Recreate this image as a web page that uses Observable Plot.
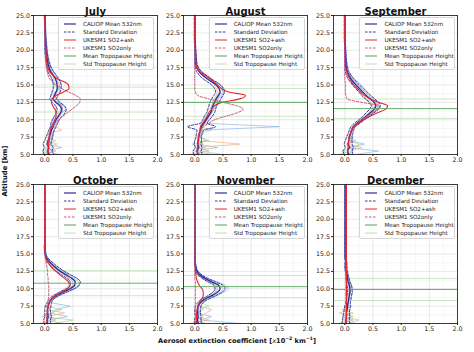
<!DOCTYPE html>
<html>
<head>
<meta charset="utf-8">
<script src="https://cdn.jsdelivr.net/npm/d3@7"></script>
<script src="https://cdn.jsdelivr.net/npm/@observablehq/plot@0.6"></script>
<style>
  body { margin: 0; background: #fff; font-family: "DejaVu Sans", sans-serif; }
  #wrap { position: relative; width: 474px; height: 352px; overflow: hidden; }
  #wrap > svg { position: absolute; left: 0; top: 0; }
  .leg { position: absolute; box-sizing: border-box; width: 96px; height: 53px;
         background: rgba(255,255,255,0.8); border: 0.7px solid #d6d6d6; border-radius: 2px; }
  .leg .row { position: absolute; left: 0; height: 8px; display: flex; align-items: center;
              font-size: 5.6px; color: #222; white-space: nowrap; }
  .leg .row svg { display: block; margin-left: 5px; margin-right: 7px; flex: none; }
  .ylab { position: absolute; left: -21px; top: 167px; width: 52px; text-align: center;
          font-size: 6.8px; font-weight: bold; transform: rotate(-90deg); color: #111; white-space: nowrap; }
  .xlab { position: absolute; left: 0; width: 474px; top: 336px; text-align: center;
          font-size: 6.6px; font-weight: bold; color: #111; white-space: nowrap; }
  .xlab sup { font-size: 4.6px; vertical-align: 3px; }
</style>
</head>
<body>
<div id="wrap"></div>
<script>
// ---------- data ----------
const months = ["July", "August", "September", "October", "November", "December"];
const alt = [5,5.5,6,6.5,7,7.5,8,8.5,9,9.5,10,10.5,11,11.5,12,12.5,13,13.5,14,14.5,15,16,17,18,20,22,25];

const julMean = [0.08,0.05,0.07,0.04,0.06,0.08,0.1,0.12,0.15,0.17,0.2,0.24,0.28,0.3,0.27,0.2,0.15,0.17,0.2,0.22,0.22,0.18,0.1,0.06,0.02,0.01,0];
const julSd   = [0.09,0.08,0.08,0.07,0.06,0.06,0.05,0.05,0.05,0.06,0.06,0.07,0.08,0.08,0.08,0.07,0.06,0.06,0.07,0.07,0.07,0.06,0.05,0.03,0.02,0.01,0.01];
const julAsh  = [0.06,0.06,0.07,0.07,0.08,0.08,0.09,0.1,0.12,0.15,0.18,0.2,0.2,0.18,0.14,0.12,0.13,0.2,0.33,0.43,0.42,0.2,0.08,0.04,0.02,0.01,0];
const julSo2  = [0.05,0.05,0.06,0.06,0.07,0.07,0.08,0.1,0.13,0.18,0.25,0.32,0.4,0.48,0.56,0.62,0.63,0.55,0.42,0.3,0.2,0.08,0.04,0.02,0.01,0,0];
const julP1   = [0.25,0.02,0.3,0.05,0.15,0.1,0.12,0.1,0.12,0.14,0.15,0.2,0.3,0.38,0.33,0.22,0.12,0.1,0.18,0.28,0.3,0.22,0.15,0.08,0.04,0.02,0];
const julP2   = [-0.1,0.2,0,0.22,0.02,0.14,0.05,0.3,0.2,0.22,0.25,0.3,0.22,0.2,0.2,0.18,0.2,0.25,0.28,0.24,0.2,0.12,0.06,0.1,0.03,0.01,0];
const julP3   = [0.12,-0.05,0.15,0.1,0.2,0.02,0.1,0.08,0.1,0.11,0.12,0.16,0.24,0.28,0.3,0.28,0.22,0.15,0.12,0.16,0.18,0.15,0.12,0.05,0.05,0.02,0.01];
const julP4   = [0.02,0.15,0.05,0.1,0.08,0.12,0.14,0.16,0.18,0.2,0.22,0.26,0.3,0.32,0.3,0.25,0.2,0.18,0.22,0.25,0.26,0.2,0.12,0.07,0.03,0.01,0];

const augMean = [0.06,0.04,0.07,0.05,0.06,0.07,0.08,0.1,0.12,0.16,0.2,0.24,0.28,0.3,0.32,0.35,0.38,0.42,0.45,0.43,0.38,0.2,0.07,0.02,0.01,0,0];
const augSd   = [0.08,0.07,0.06,0.06,0.06,0.05,0.05,0.06,0.25,0.06,0.06,0.07,0.07,0.07,0.07,0.08,0.08,0.08,0.08,0.08,0.08,0.07,0.04,0.02,0.01,0.01,0.01];
const augAsh  = [0.05,0.05,0.05,0.06,0.06,0.07,0.08,0.09,0.1,0.14,0.18,0.22,0.25,0.3,0.35,0.48,0.8,0.9,0.6,0.47,0.4,0.25,0.08,0.02,0.01,0,0];
const augSo2  = [0.04,0.04,0.05,0.05,0.06,0.06,0.07,0.1,0.15,0.25,0.35,0.55,0.75,0.86,0.75,0.5,0.25,0.05,0.01,0,0,0,0,0,0,0,0];
const augP1   = [0.3,0,0.4,0.05,0.2,0.1,0.15,0.12,1.5,0.18,0.2,0.25,0.3,0.33,0.35,0.37,0.4,0.45,0.5,0.48,0.42,0.25,0.1,0.03,0.01,0,0];
const augP2   = [-0.12,0.25,0.05,0.8,0.1,0.02,0.12,0.14,0.15,0.18,0.22,0.26,0.3,0.28,0.3,0.32,0.35,0.38,0.4,0.38,0.35,0.3,0.12,0.04,0.02,0.01,0];
const augP3   = [0.5,0.1,0.2,-0.05,0.25,0.08,0.06,0.3,0.1,0.12,0.16,0.2,0.22,0.26,0.3,0.33,0.36,0.4,0.44,0.5,0.45,0.25,0.06,0.02,0,0,0];
const augP4   = [0.1,0.05,0.02,0.15,0.08,0.1,0.1,0.12,0.14,0.18,0.22,0.26,0.3,0.34,0.38,0.4,0.42,0.48,0.52,0.5,0.45,0.26,0.1,0.03,0.01,0,0];

const sepMean = [0.07,0.05,0.08,0.06,0.07,0.08,0.1,0.12,0.15,0.22,0.3,0.38,0.45,0.52,0.55,0.52,0.45,0.38,0.32,0.26,0.2,0.1,0.04,0.02,0.01,0,0];
const sepSd   = [0.08,0.08,0.07,0.07,0.06,0.05,0.04,0.04,0.04,0.05,0.05,0.06,0.07,0.08,0.08,0.08,0.08,0.08,0.07,0.07,0.06,0.05,0.03,0.02,0.01,0.01,0.01];
const sepAsh  = [0.05,0.05,0.06,0.06,0.07,0.08,0.1,0.13,0.17,0.25,0.33,0.45,0.58,0.72,0.76,0.6,0.45,0.35,0.28,0.22,0.16,0.08,0.03,0.01,0.01,0,0];
const sepSo2  = [0.05,0.05,0.06,0.06,0.07,0.08,0.1,0.12,0.16,0.23,0.3,0.4,0.48,0.58,0.62,0.3,0.04,0.02,0.01,0.01,0.01,0,0,0,0,0,0];
const sepP1   = [0.2,0.6,0.05,0.35,0.1,0.15,0.12,0.14,0.16,0.24,0.32,0.4,0.5,0.58,0.6,0.58,0.5,0.45,0.4,0.35,0.3,0.15,0.05,0.02,0.01,0,0];
const sepP2   = [-0.1,0.1,0.3,0.02,0.2,0.05,0.09,0.11,0.14,0.2,0.27,0.34,0.42,0.48,0.5,0.47,0.4,0.33,0.27,0.22,0.16,0.08,0.03,0.01,0,0,0];
const sepP3   = [0.15,-0.05,0.2,0.25,0.05,0.12,0.1,0.12,0.15,0.22,0.3,0.4,0.5,0.56,0.5,0.42,0.36,0.3,0.28,0.24,0.2,0.12,0.05,0.02,0.01,0,0];
const sepP4   = [0.05,0.15,0.1,0.08,0.12,0.1,0.11,0.13,0.17,0.25,0.34,0.42,0.5,0.56,0.58,0.55,0.48,0.42,0.36,0.3,0.24,0.12,0.05,0.02,0.01,0,0];

const octMean = [0.05,0.04,0.06,0.05,0.05,0.06,0.08,0.12,0.2,0.32,0.45,0.53,0.54,0.48,0.38,0.28,0.2,0.13,0.07,0.03,0.01,0,0,0,0,0,0];
const octSd   = [0.06,0.06,0.06,0.05,0.05,0.05,0.04,0.04,0.05,0.06,0.07,0.08,0.09,0.09,0.08,0.07,0.06,0.05,0.04,0.02,0.01,0.01,0,0,0,0,0];
const octAsh  = [0.04,0.04,0.05,0.05,0.05,0.06,0.08,0.12,0.2,0.3,0.4,0.45,0.42,0.35,0.27,0.2,0.13,0.08,0.04,0.02,0.01,0,0,0,0,0,0];
const octSo2  = [0.03,0.03,0.03,0.03,0.04,0.04,0.05,0.06,0.07,0.07,0.07,0.07,0.06,0.06,0.05,0.05,0.04,0.03,0.02,0.01,0.01,0,0,0,0,0,0];
const octP1   = [0.3,0.05,0.4,0.1,0.2,0.45,0.1,0.15,0.25,0.4,0.55,0.62,0.6,0.52,0.42,0.32,0.22,0.15,0.08,0.03,0.01,0,0,0,0,0,0];
const octP2   = [-0.1,0.2,0.02,0.35,0.05,0.1,0.07,0.1,0.16,0.26,0.36,0.42,0.45,0.42,0.34,0.25,0.17,0.1,0.05,0.02,0.01,0,0,0,0,0,0];
const octP3   = [0.15,0.5,-0.05,0.1,0.3,0.02,0.09,0.14,0.22,0.36,0.5,0.6,0.64,0.58,0.45,0.34,0.24,0.16,0.09,0.04,0.02,0.01,0,0,0,0,0];
const octP4   = [0.08,0.02,0.12,0.05,0.1,0.06,0.08,0.12,0.18,0.3,0.42,0.5,0.5,0.44,0.36,0.26,0.18,0.12,0.06,0.03,0.01,0,0,0,0,0,0];

const novMean = [0.06,0.05,0.06,0.05,0.05,0.06,0.1,0.18,0.3,0.4,0.45,0.42,0.3,0.18,0.09,0.04,0.02,0.01,0,0,0,0,0,0,0,0,0];
const novSd   = [0.06,0.06,0.05,0.05,0.05,0.05,0.05,0.06,0.07,0.08,0.09,0.08,0.07,0.05,0.04,0.02,0.01,0.01,0,0,0,0,0,0,0,0,0];
const novAsh  = [0.03,0.03,0.03,0.03,0.04,0.05,0.08,0.12,0.15,0.15,0.13,0.08,0.05,0.03,0.02,0.01,0.01,0.01,0.01,0.01,0.01,0.01,0.01,0.01,0.01,0.01,0.01];
const novSo2  = [0.01,0.01,0.01,0.01,0.01,0.01,0.01,0.01,0.01,0.01,0.01,0.01,0.01,0,0,0,0,0,0,0,0,0,0,0,0,0,0];
const novP1   = [0.8,0.1,0.3,0.05,0.15,0.1,0.14,0.24,0.4,0.52,0.6,0.55,0.4,0.22,0.1,0.05,0.02,0.01,0,0,0,0,0,0,0,0,0];
const novP2   = [-0.1,0.25,0.05,0.2,0.3,0.08,0.08,0.14,0.24,0.32,0.36,0.34,0.25,0.14,0.07,0.03,0.01,0,0,0,0,0,0,0,0,0,0];
const novP3   = [0.2,0,0.15,0.1,0.05,0.25,0.12,0.2,0.34,0.46,0.5,0.46,0.33,0.2,0.1,0.05,0.02,0.01,0,0,0,0,0,0,0,0,0];
const novP4   = [0.05,0.12,0.02,0.1,0.06,0.08,0.09,0.16,0.27,0.36,0.4,0.38,0.28,0.16,0.08,0.04,0.02,0.01,0,0,0,0,0,0,0,0,0];

const decMean = [0.02,0.02,0.03,0.03,0.04,0.05,0.06,0.07,0.08,0.09,0.09,0.08,0.06,0.05,0.04,0.03,0.02,0.02,0.02,0.01,0.01,0.01,0.01,0.01,0.01,0.01,0.01];
const decSd   = [0.07,0.06,0.06,0.05,0.05,0.05,0.04,0.04,0.04,0.04,0.04,0.04,0.03,0.03,0.02,0.02,0.02,0.02,0.01,0.01,0.01,0.01,0.01,0.01,0.01,0.01,0.01];
const decAsh  = [0.03,0.03,0.03,0.03,0.03,0.03,0.03,0.03,0.03,0.03,0.03,0.03,0.03,0.03,0.03,0.03,0.03,0.03,0.03,0.03,0.03,0.03,0.03,0.03,0.03,0.03,0.03];
const decSo2  = [0.02,0.02,0.02,0.02,0.02,0.02,0.02,0.02,0.02,0.02,0.02,0.02,0.02,0.02,0.02,0.02,0.02,0.02,0.02,0.02,0.02,0.02,0.02,0.02,0.02,0.02,0.02];
const decP1   = [-0.1,0.15,-0.05,0.1,0,0.12,0.05,0.1,0.12,0.14,0.13,0.1,0.08,0.06,0.04,0.03,0.03,0.02,0.02,0.02,0.03,0.01,0.01,0.01,0.01,0.02,0.01];
const decP2   = [0.2,-0.05,0.15,-0.1,0.1,0.02,0.08,0.04,0.06,0.08,0.1,0.12,0.1,0.07,0.05,0.04,0.03,0.02,0.01,0.01,0.01,0.01,0.01,0.02,0.01,0.01,0.01];
const decP3   = [0.05,0.25,0,0.15,-0.05,0.08,0.02,0.06,0.05,0.07,0.08,0.06,0.05,0.04,0.03,0.02,0.02,0.01,0.01,0.01,0.01,0.01,0.01,0.01,0.01,0.01,0.01];
const decP4   = [0,0.05,0.1,0.02,0.06,0.04,0.05,0.07,0.09,0.1,0.1,0.09,0.07,0.05,0.04,0.03,0.02,0.02,0.01,0.01,0.01,0.01,0.01,0.01,0.01,0.01,0.01];

const tropoMean = [12.9, 12.5, 11.6, 10.8, 10.3, 9.9];
const tropoSd   = [1.8, 2.0, 1.4, 1.8, 1.6, 1.6];

const xTicks = [0, 0.5, 1, 1.5, 2];
const yTicks = [5, 7.5, 10, 12.5, 15, 17.5, 20, 22.5, 25];
const xMinor = [0.25, 0.75, 1.25, 1.75];
const yMinor = [6.25, 8.75, 11.25, 13.75, 16.25, 18.75, 21.25, 23.75];

const legendLabels = ["CALIOP Mean 532nm", "Standard Deviation", "UKESM1 SO2+ash", "UKESM1 SO2only", "Mean Tropopause Height", "Std Tropopause Height"];

// ---------- build tables ----------
const monthSeries = [
  [julMean, julSd, julAsh, julSo2, julP1, julP2, julP3, julP4],
  [augMean, augSd, augAsh, augSo2, augP1, augP2, augP3, augP4],
  [sepMean, sepSd, sepAsh, sepSo2, sepP1, sepP2, sepP3, sepP4],
  [octMean, octSd, octAsh, octSo2, octP1, octP2, octP3, octP4],
  [novMean, novSd, novAsh, novSo2, novP1, novP2, novP3, novP4],
  [decMean, decSd, decAsh, decSo2, decP1, decP2, decP3, decP4]
];
const rows = [];
monthSeries.forEach((s, m) => {
  alt.forEach((a, k) => {
    rows.push({m, alt: a, mean: s[0][k], sd: s[1][k], ash: s[2][k], so2: s[3][k],
               p1: s[4][k], p2: s[5][k], p3: s[6][k], p4: s[7][k]});
  });
});
const tropo = tropoMean.map((h, m) => ({m, h, sd: tropoSd[m]}));
const titles = months.map((name, m) => ({m, name}));
const FX = d => d.m % 3;
const FY = d => Math.floor(d.m / 3);

const C = {
  mean: "#30309a", sd: "#3636a8", ash: "#e3262f", so2: "#d4557a",
  tMean: "#55a255", tSd: "#bfe0b6", p1: "#80b0e4", p2: "#f0a870", p3: "#92cf8c", p4: "#9a88c4"
};

const spag = (key, color) => Plot.line(rows, {x: key, y: "alt", fx: FX, fy: FY, stroke: color, strokeWidth: 0.9, strokeOpacity: 0.7});
const prof = (xf, color, dash, w) => Plot.line(rows, {x: xf, y: "alt", fx: FX, fy: FY, stroke: color, strokeWidth: w, strokeDasharray: dash, curve: "monotone-y"});

const chart = Plot.plot({
  width: 474, height: 352,
  marginLeft: 32, marginRight: 16, marginTop: 15, marginBottom: 29,
  style: {fontFamily: "DejaVu Sans", fontSize: "6.3px", color: "#222", background: "transparent"},
  fx: {domain: [0, 1, 2], axis: null, paddingInner: 0.173, paddingOuter: 0},
  fy: {domain: [0, 1], axis: null, paddingInner: 0.178, paddingOuter: 0},
  x: {domain: [-0.2, 2.0]},
  y: {domain: [5, 25]},
  marks: [
    Plot.gridX({ticks: xMinor, stroke: "#ececec", strokeOpacity: 1, strokeWidth: 0.5}),
    Plot.gridY({ticks: yMinor, stroke: "#ececec", strokeOpacity: 1, strokeWidth: 0.5}),
    Plot.gridX({ticks: xTicks, stroke: "#d8d8d8", strokeOpacity: 1, strokeWidth: 0.6}),
    Plot.gridY({ticks: yTicks, stroke: "#d8d8d8", strokeOpacity: 1, strokeWidth: 0.6}),
    Plot.ruleY(tropo, {y: d => d.h + d.sd, fx: FX, fy: FY, stroke: C.tSd, strokeWidth: 0.8}),
    Plot.ruleY(tropo, {y: d => d.h - d.sd, fx: FX, fy: FY, stroke: C.tSd, strokeWidth: 0.8}),
    spag("p1", C.p1), spag("p2", C.p2), spag("p3", C.p3), spag("p4", C.p4),
    prof(d => d.mean + d.sd, C.sd, "2.5,1.5", 1.0),
    prof(d => d.mean - d.sd, C.sd, "2.5,1.5", 1.0),
    prof("mean", C.mean, null, 1.4),
    prof("so2", C.so2, "2.5,1.5", 1.0),
    prof("ash", C.ash, null, 1.1),
    Plot.ruleY(tropo, {y: "h", fx: FX, fy: FY, stroke: C.tMean, strokeWidth: 0.9}),
    Plot.frame({stroke: "#111", strokeWidth: 0.8}),
    Plot.axisX({ticks: xTicks, tickFormat: d3.format(".1f"), tickSize: 2, tickPadding: 1.5, label: null, facetAnchor: null}),
    Plot.axisY({ticks: yTicks, tickFormat: d3.format(".1f"), tickSize: 2, tickPadding: 1.5, label: null, facetAnchor: null}),
    Plot.text(titles, {fx: FX, fy: FY, text: "name", frameAnchor: "top", lineAnchor: "bottom", dy: -1, fontSize: 10, fontWeight: "bold", fill: "#111"})
  ]
});

const wrap = document.getElementById("wrap");
wrap.appendChild(chart);

// legends (HTML overlay)
const legStyles = [
  {c: C.mean, d: null, w: 1.2}, {c: C.sd, d: "2.5,1.5", w: 1}, {c: C.ash, d: null, w: 1},
  {c: C.so2, d: "2.5,1.5", w: 1}, {c: C.tMean, d: null, w: 1}, {c: C.tSd, d: null, w: 1}
];
const bw = 426 / (3 - 0.173), bh = 308 / (2 - 0.178);
months.forEach((_, m) => {
  const x0 = 32 + (m % 3) * bw, y0 = 15 + Math.floor(m / 3) * bh;
  const leg = document.createElement("div");
  leg.className = "leg";
  leg.style.left = (x0 + 26) + "px";
  leg.style.top = (y0 + 2) + "px";
  legendLabels.forEach((lab, i) => {
    const r = document.createElement("div");
    r.className = "row";
    r.style.top = (2.3 + 8 * i) + "px";
    const s = legStyles[i];
    r.innerHTML = `<svg width="12" height="4"><line x1="0" x2="12" y1="2" y2="2" stroke="${s.c}" stroke-width="${s.w}" ${s.d ? `stroke-dasharray="${s.d}"` : ""}/></svg><span>${lab}</span>`;
    leg.appendChild(r);
  });
  wrap.appendChild(leg);
});

const yl = document.createElement("div");
yl.className = "ylab"; yl.textContent = "Altitude [km]";
wrap.appendChild(yl);
const xl = document.createElement("div");
xl.className = "xlab";
xl.innerHTML = 'Aerosol extinction coefficient [<i style="font-weight:normal">x</i>10<sup>−2</sup> km<sup>−1</sup>]';
wrap.appendChild(xl);
</script>
</body>
</html>
